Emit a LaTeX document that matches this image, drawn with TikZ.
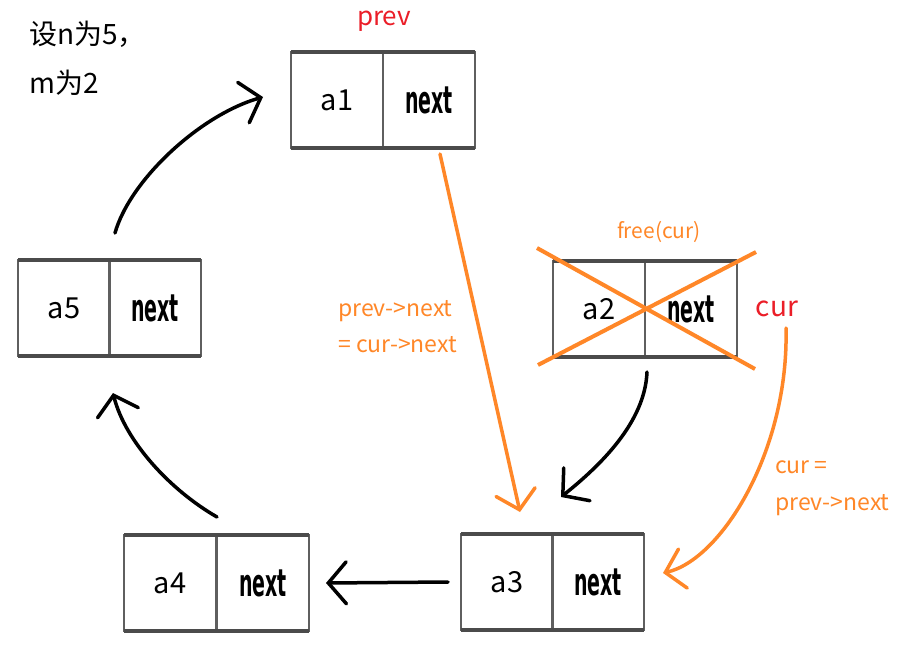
\documentclass[tikz,border=0pt]{standalone}
\usepackage{fontspec}
\setmainfont{Noto Sans CJK SC}
\newfontfamily\nextfont[FakeStretch=0.5]{DejaVu Sans}
\usetikzlibrary{arrows.meta}
\definecolor{org}{RGB}{255,135,40}
\definecolor{redt}{RGB}{235,30,40}
\definecolor{bordr}{RGB}{95,95,95}
\definecolor{bordt}{RGB}{75,75,75}
\begin{document}
\begin{tikzpicture}[x=1pt,y=-1pt,
  cell/.style={draw=bordr, line width=2pt, minimum width=92pt, minimum height=96pt,
    inner sep=0pt, outer sep=0pt, anchor=north west, font=\fontsize{29}{30}\selectfont},
  ptr/.style={cell, font=\nextfont\bfseries\fontsize{38}{40}\selectfont},
  edgebar/.style={bordt, line width=4pt},
  blk/.style={black, line width=3.5pt, line cap=round, -{Straight Barb[length=18pt,width=42pt,line cap=round]}},
  orgarr/.style={org, line width=3.5pt, line cap=round, -{Straight Barb[length=18pt,width=40pt,line cap=round]}},
  olab/.style={org, anchor=base west, inner sep=0pt, font=\fontsize{23}{26}\selectfont},
]
\fill[white] (0,0) rectangle (906,653);
\useasboundingbox (0,0) rectangle (906,653);

% boxes
\node[cell] (a1) at (291,52) {a1};
\node[ptr] (a1n) at (383,52) {next};
\node[cell] (a5) at (18,260) {a5};
\node[ptr] (a5n) at (109,260) {next};
\node[cell] (a2) at (553,261) {a2};
\node[ptr] (a2n) at (645,261) {next};
\node[cell] (a4) at (124,535) {a4};
\node[ptr] (a4n) at (217,535) {next};
\node[cell] (a3) at (461,534) {a3};
\node[ptr] (a3n) at (552,534) {next};
\foreach \b in {a1,a5,a2,a4,a3}{
  \draw[edgebar] (\b.north west) -- (\b n.north east);
  \draw[edgebar] (\b.south west) -- (\b n.south east);
}

% texts
\node[anchor=base west, inner sep=0pt, font=\fontsize{28}{30}\selectfont] (t1) at (29,45) {设n为5，};
\node[anchor=base west, inner sep=0pt, font=\fontsize{28}{30}\selectfont] (t2) at (29,93) {m为2};
\node[redt, anchor=base, inner sep=0pt, font=\fontsize{26}{28}\selectfont] (prevl) at (384,26) {prev};
\node[org, anchor=base, inner sep=0pt, font=\fontsize{21}{24}\selectfont] (freel) at (659,238) {free(cur)};
\node[redt, anchor=base, inner sep=0pt, font=\fontsize{28}{30}\selectfont] (curl) at (777,316) {cur};
\node[olab] (pl1) at (338,316) {prev->next};
\node[olab] (pl2) at (338,352) {= cur->next};
\node[olab] (cl1) at (775,473) {cur =};
\node[olab] (cl2) at (775,510) {prev->next};

% black arrows
\draw[blk] ([shift={(6,-27)}]a5n.north west) .. controls +(15,-53) and +(-63,18) .. ([shift={(-28,-3)}]a1.west);
\draw[blk] ([shift={(0,-18)}]a4n.north west) .. controls +(-47,-27) and +(12,48) .. ([shift={(4,37)}]a5n.south west);
\draw[blk] ([shift={(-13,0)}]a3.west) -- ([shift={(17,0)}]a4n.east);
\draw[blk] ([shift={(2,15)}]a2n.south west) .. controls +(-2,50) and +(40,-32) .. ([shift={(8,-37)}]a3.north east);

% orange arrows
\draw[orgarr] ([shift={(11,6)}]a1n.south) -- ([shift={(13,-22)}]a3.north);
\draw[orgarr] ([shift={(49,19)}]a2n.east) .. controls +(3,123) and +(58,-13) .. ([shift={(19,-9)}]a3n.east);

% cross over a2
\draw[org, line width=4pt] ([shift={(-16,-13)}]a2.north west) -- ([shift={(18,12)}]a2n.south east);
\draw[org, line width=4pt] ([shift={(-15,8)}]a2.south west) -- ([shift={(19,-9)}]a2n.north east);
\end{tikzpicture}
\end{document}
